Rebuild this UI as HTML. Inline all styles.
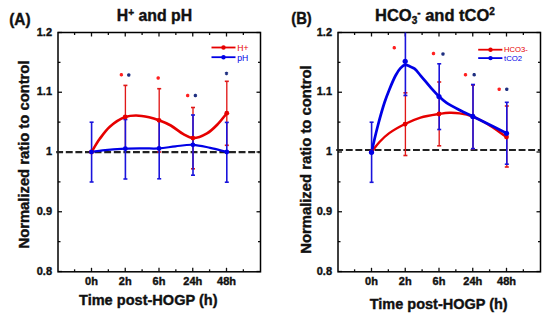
<!DOCTYPE html>
<html><head><meta charset="utf-8"><style>
html,body{margin:0;padding:0;background:#fff;width:550px;height:317px;overflow:hidden;}
svg{display:block;}
</style></head><body>
<svg width="550" height="317" viewBox="0 0 550 317">
<style>text{font-family:"Liberation Sans",sans-serif;} .tl{font-weight:bold;font-size:11px;fill:#111;stroke:#111;stroke-width:0.4} .tt{font-weight:bold;fill:#111;stroke:#111;stroke-width:0.4} .tk line{stroke:#111;stroke-width:1.3}</style>
<g class="tk">
<line x1="91.5" y1="271.8" x2="91.5" y2="267.8"/><line x1="91.5" y1="32.5" x2="91.5" y2="36.5"/>
<line x1="125.25" y1="271.8" x2="125.25" y2="267.8"/><line x1="125.25" y1="32.5" x2="125.25" y2="36.5"/>
<line x1="159.0" y1="271.8" x2="159.0" y2="267.8"/><line x1="159.0" y1="32.5" x2="159.0" y2="36.5"/>
<line x1="192.75" y1="271.8" x2="192.75" y2="267.8"/><line x1="192.75" y1="32.5" x2="192.75" y2="36.5"/>
<line x1="226.5" y1="271.8" x2="226.5" y2="267.8"/><line x1="226.5" y1="32.5" x2="226.5" y2="36.5"/>
<line x1="74.60" y1="271.8" x2="74.60" y2="269.3"/><line x1="74.60" y1="32.5" x2="74.60" y2="35.0"/>
<line x1="108.35" y1="271.8" x2="108.35" y2="269.3"/><line x1="108.35" y1="32.5" x2="108.35" y2="35.0"/>
<line x1="142.10" y1="271.8" x2="142.10" y2="269.3"/><line x1="142.10" y1="32.5" x2="142.10" y2="35.0"/>
<line x1="175.85" y1="271.8" x2="175.85" y2="269.3"/><line x1="175.85" y1="32.5" x2="175.85" y2="35.0"/>
<line x1="209.60" y1="271.8" x2="209.60" y2="269.3"/><line x1="209.60" y1="32.5" x2="209.60" y2="35.0"/>
<line x1="243.35" y1="271.8" x2="243.35" y2="269.3"/><line x1="243.35" y1="32.5" x2="243.35" y2="35.0"/>
<line x1="58" y1="32.5" x2="62" y2="32.5"/><line x1="260.5" y1="32.5" x2="256.5" y2="32.5"/>
<line x1="58" y1="92.25" x2="62" y2="92.25"/><line x1="260.5" y1="92.25" x2="256.5" y2="92.25"/>
<line x1="58" y1="152.0" x2="62" y2="152.0"/><line x1="260.5" y1="152.0" x2="256.5" y2="152.0"/>
<line x1="58" y1="211.75" x2="62" y2="211.75"/><line x1="260.5" y1="211.75" x2="256.5" y2="211.75"/>
<line x1="58" y1="271.5" x2="62" y2="271.5"/><line x1="260.5" y1="271.5" x2="256.5" y2="271.5"/>
<line x1="58" y1="62.375" x2="60.5" y2="62.375"/><line x1="260.5" y1="62.375" x2="258.0" y2="62.375"/>
<line x1="58" y1="122.125" x2="60.5" y2="122.125"/><line x1="260.5" y1="122.125" x2="258.0" y2="122.125"/>
<line x1="58" y1="181.875" x2="60.5" y2="181.875"/><line x1="260.5" y1="181.875" x2="258.0" y2="181.875"/>
<line x1="58" y1="241.625" x2="60.5" y2="241.625"/><line x1="260.5" y1="241.625" x2="258.0" y2="241.625"/>
</g>
<rect x="58" y="32.5" width="202.5" height="239.3" fill="none" stroke="#000" stroke-width="1.5"/>
<text class="tl" x="52" y="35.70" text-anchor="end">1.2</text>
<text class="tl" x="52" y="95.45" text-anchor="end">1.1</text>
<text class="tl" x="52" y="155.20" text-anchor="end">1</text>
<text class="tl" x="52" y="214.95" text-anchor="end">0.9</text>
<text class="tl" x="52" y="274.70" text-anchor="end">0.8</text>
<text class="tl" x="91.50" y="285.2" text-anchor="middle">0h</text>
<text class="tl" x="125.25" y="285.2" text-anchor="middle">2h</text>
<text class="tl" x="159.00" y="285.2" text-anchor="middle">6h</text>
<text class="tl" x="192.75" y="285.2" text-anchor="middle">24h</text>
<text class="tl" x="226.50" y="285.2" text-anchor="middle">48h</text>
<line x1="56.2" y1="152.2" x2="260" y2="152.2" style="stroke:#222;stroke-width:2.2;stroke-dasharray:6.9 2.7"/>
<g stroke="#e01818" stroke-width="1.35" fill="none"><line x1="125.39999999999999" y1="85.40" x2="125.39999999999999" y2="149.00"/><line x1="123.39999999999999" y1="85.40" x2="127.39999999999999" y2="85.40" stroke-width="1.6"/><line x1="123.39999999999999" y1="149.00" x2="127.39999999999999" y2="149.00" stroke-width="1.6"/></g>
<g stroke="#e01818" stroke-width="1.35" fill="none"><line x1="159.2" y1="88.70" x2="159.2" y2="152.00"/><line x1="157.2" y1="88.70" x2="161.2" y2="88.70" stroke-width="1.6"/><line x1="157.2" y1="152.00" x2="161.2" y2="152.00" stroke-width="1.6"/></g>
<g stroke="#e01818" stroke-width="1.35" fill="none"><line x1="193.0" y1="107.50" x2="193.0" y2="168.80"/><line x1="191.0" y1="107.50" x2="195.0" y2="107.50" stroke-width="1.6"/><line x1="191.0" y1="168.80" x2="195.0" y2="168.80" stroke-width="1.6"/></g>
<g stroke="#e01818" stroke-width="1.35" fill="none"><line x1="226.79999999999998" y1="81.30" x2="226.79999999999998" y2="145.30"/><line x1="224.79999999999998" y1="81.30" x2="228.79999999999998" y2="81.30" stroke-width="1.6"/><line x1="224.79999999999998" y1="145.30" x2="228.79999999999998" y2="145.30" stroke-width="1.6"/></g>
<g stroke="#1a14dc" stroke-width="1.6" fill="none"><line x1="91.6" y1="122.20" x2="91.6" y2="182.00"/><line x1="89.6" y1="122.20" x2="93.6" y2="122.20" stroke-width="1.6"/><line x1="89.6" y1="182.00" x2="93.6" y2="182.00" stroke-width="1.6"/></g>
<g stroke="#1a14dc" stroke-width="1.6" fill="none"><line x1="125.39999999999999" y1="119.50" x2="125.39999999999999" y2="179.00"/><line x1="123.39999999999999" y1="119.50" x2="127.39999999999999" y2="119.50" stroke-width="1.6"/><line x1="123.39999999999999" y1="179.00" x2="127.39999999999999" y2="179.00" stroke-width="1.6"/></g>
<g stroke="#1a14dc" stroke-width="1.6" fill="none"><line x1="159.2" y1="120.50" x2="159.2" y2="178.80"/><line x1="157.2" y1="120.50" x2="161.2" y2="120.50" stroke-width="1.6"/><line x1="157.2" y1="178.80" x2="161.2" y2="178.80" stroke-width="1.6"/></g>
<g stroke="#1a14dc" stroke-width="1.6" fill="none"><line x1="193.0" y1="115.00" x2="193.0" y2="175.20"/><line x1="191.0" y1="115.00" x2="195.0" y2="115.00" stroke-width="1.6"/><line x1="191.0" y1="175.20" x2="195.0" y2="175.20" stroke-width="1.6"/></g>
<g stroke="#1a14dc" stroke-width="1.6" fill="none"><line x1="226.79999999999998" y1="122.40" x2="226.79999999999998" y2="182.20"/><line x1="224.79999999999998" y1="122.40" x2="228.79999999999998" y2="122.40" stroke-width="1.6"/><line x1="224.79999999999998" y1="182.20" x2="228.79999999999998" y2="182.20" stroke-width="1.6"/></g>
<path d="M91.50 152.00 C94.20 147.70 96.60 143.26 99.60 139.10 C102.68 134.82 105.71 130.30 109.80 126.70 C114.15 122.86 120.34 118.77 125.20 117.00 C128.96 115.63 132.23 115.50 136.00 115.50 C140.16 115.50 145.07 116.42 149.10 117.30 C152.66 118.08 155.59 119.04 159.00 120.30 C162.80 121.71 166.90 123.32 170.80 125.50 C175.04 127.87 179.38 132.02 183.40 134.20 C186.69 135.98 189.40 137.98 192.90 138.10 C197.11 138.24 202.80 135.79 207.00 133.40 C211.15 131.04 214.67 127.31 218.00 123.90 C221.25 120.57 223.87 116.77 226.80 113.20" fill="none" stroke="#e60000" stroke-width="2.6" stroke-linecap="round"/>
<path d="M91.50 152.00 C95.17 151.47 98.16 150.88 102.50 150.40 C108.72 149.72 118.14 149.03 125.30 148.70 C131.65 148.41 137.50 148.45 143.30 148.40 C148.71 148.35 153.71 148.74 159.00 148.40 C164.44 148.06 169.92 146.90 175.50 146.30 C181.22 145.69 187.13 144.54 192.90 144.80 C198.69 145.06 204.51 146.69 210.20 147.90 C215.81 149.09 221.27 150.63 226.80 152.00" fill="none" stroke="#0000e6" stroke-width="2.2" stroke-linecap="round"/>
<circle cx="91.5" cy="152.00" r="2.4" fill="#e60000"/>
<circle cx="125.2" cy="117.00" r="2.4" fill="#e60000"/>
<circle cx="159" cy="120.30" r="2.4" fill="#e60000"/>
<circle cx="192.9" cy="138.10" r="2.4" fill="#e60000"/>
<circle cx="226.8" cy="113.20" r="2.4" fill="#e60000"/>
<circle cx="91.5" cy="152.00" r="2.4" fill="#0000e6"/>
<circle cx="125.3" cy="148.70" r="2.4" fill="#0000e6"/>
<circle cx="159" cy="148.40" r="2.4" fill="#0000e6"/>
<circle cx="192.9" cy="144.80" r="2.4" fill="#0000e6"/>
<circle cx="226.8" cy="152.00" r="2.4" fill="#0000e6"/>
<path d="M121.40 73.05L121.40 76.55M119.88 73.92L122.92 75.67M122.92 73.92L119.88 75.67" stroke="#ff2020" stroke-width="1.3" fill="none"/><circle cx="121.4" cy="74.8" r="0.9" fill="#ff2020"/>
<path d="M128.80 73.25L128.80 76.75M127.28 74.12L130.32 75.88M130.32 74.12L127.28 75.88" stroke="#1e2f80" stroke-width="1.3" fill="none"/><circle cx="128.8" cy="75.0" r="0.9" fill="#1e2f80"/>
<path d="M158.20 76.25L158.20 79.75M156.68 77.12L159.72 78.88M159.72 77.12L156.68 78.88" stroke="#ff2020" stroke-width="1.3" fill="none"/><circle cx="158.2" cy="78" r="0.9" fill="#ff2020"/>
<path d="M187.70 93.75L187.70 97.25M186.18 94.62L189.22 96.38M189.22 94.62L186.18 96.38" stroke="#ff2020" stroke-width="1.3" fill="none"/><circle cx="187.7" cy="95.5" r="0.9" fill="#ff2020"/>
<path d="M195.40 93.75L195.40 97.25M193.88 94.62L196.92 96.38M196.92 94.62L193.88 96.38" stroke="#1e2f80" stroke-width="1.3" fill="none"/><circle cx="195.4" cy="95.5" r="0.9" fill="#1e2f80"/>
<path d="M226.50 71.65L226.50 75.15M224.98 72.53L228.02 74.28M228.02 72.53L224.98 74.28" stroke="#1e2f80" stroke-width="1.3" fill="none"/><circle cx="226.5" cy="73.4" r="0.9" fill="#1e2f80"/>
<line x1="211.5" y1="47.5" x2="235.5" y2="47.5" style="stroke:#e60000;stroke-width:1.8"/>
<circle cx="223.5" cy="47.50" r="2.2" fill="#e60000"/>
<line x1="211.5" y1="57.2" x2="235.5" y2="57.2" style="stroke:#0000e6;stroke-width:1.8"/>
<circle cx="223.5" cy="57.20" r="2.2" fill="#0000e6"/>
<text x="237.3" y="50.9" style="font-size:8.6px;fill:#e60000">H+</text>
<text x="237.3" y="60.6" style="font-size:8.6px;fill:#0000e6">pH</text>
<text class="tt" x="9.2" y="24.9" style="font-size:16.2px" textLength="21.4" lengthAdjust="spacingAndGlyphs">(A)</text>
<text class="tt" x="116.8" y="20.5" style="font-size:16.5px" textLength="75.4" lengthAdjust="spacingAndGlyphs">H<tspan dy="-5" style="font-size:10.5px">+</tspan><tspan dy="5"> and pH</tspan></text>
<text class="tt" x="79.0" y="304.9" style="font-size:15px" textLength="138.6" lengthAdjust="spacingAndGlyphs">Time post-HOGP (h)</text>
<text class="tt" transform="translate(28.8 248.5) rotate(-90)" x="0" y="0" style="font-size:14.8px" textLength="188" lengthAdjust="spacingAndGlyphs">Normalized ratio to control</text>
<g class="tk">
<line x1="371.5" y1="271.8" x2="371.5" y2="267.8"/><line x1="371.5" y1="32.5" x2="371.5" y2="36.5"/>
<line x1="405.25" y1="271.8" x2="405.25" y2="267.8"/><line x1="405.25" y1="32.5" x2="405.25" y2="36.5"/>
<line x1="439.0" y1="271.8" x2="439.0" y2="267.8"/><line x1="439.0" y1="32.5" x2="439.0" y2="36.5"/>
<line x1="472.75" y1="271.8" x2="472.75" y2="267.8"/><line x1="472.75" y1="32.5" x2="472.75" y2="36.5"/>
<line x1="506.5" y1="271.8" x2="506.5" y2="267.8"/><line x1="506.5" y1="32.5" x2="506.5" y2="36.5"/>
<line x1="354.60" y1="271.8" x2="354.60" y2="269.3"/><line x1="354.60" y1="32.5" x2="354.60" y2="35.0"/>
<line x1="388.35" y1="271.8" x2="388.35" y2="269.3"/><line x1="388.35" y1="32.5" x2="388.35" y2="35.0"/>
<line x1="422.10" y1="271.8" x2="422.10" y2="269.3"/><line x1="422.10" y1="32.5" x2="422.10" y2="35.0"/>
<line x1="455.85" y1="271.8" x2="455.85" y2="269.3"/><line x1="455.85" y1="32.5" x2="455.85" y2="35.0"/>
<line x1="489.60" y1="271.8" x2="489.60" y2="269.3"/><line x1="489.60" y1="32.5" x2="489.60" y2="35.0"/>
<line x1="523.35" y1="271.8" x2="523.35" y2="269.3"/><line x1="523.35" y1="32.5" x2="523.35" y2="35.0"/>
<line x1="338" y1="32.5" x2="342" y2="32.5"/><line x1="540.5" y1="32.5" x2="536.5" y2="32.5"/>
<line x1="338" y1="92.25" x2="342" y2="92.25"/><line x1="540.5" y1="92.25" x2="536.5" y2="92.25"/>
<line x1="338" y1="152.0" x2="342" y2="152.0"/><line x1="540.5" y1="152.0" x2="536.5" y2="152.0"/>
<line x1="338" y1="211.75" x2="342" y2="211.75"/><line x1="540.5" y1="211.75" x2="536.5" y2="211.75"/>
<line x1="338" y1="271.5" x2="342" y2="271.5"/><line x1="540.5" y1="271.5" x2="536.5" y2="271.5"/>
<line x1="338" y1="62.375" x2="340.5" y2="62.375"/><line x1="540.5" y1="62.375" x2="538.0" y2="62.375"/>
<line x1="338" y1="122.125" x2="340.5" y2="122.125"/><line x1="540.5" y1="122.125" x2="538.0" y2="122.125"/>
<line x1="338" y1="181.875" x2="340.5" y2="181.875"/><line x1="540.5" y1="181.875" x2="538.0" y2="181.875"/>
<line x1="338" y1="241.625" x2="340.5" y2="241.625"/><line x1="540.5" y1="241.625" x2="538.0" y2="241.625"/>
</g>
<rect x="338" y="32.5" width="202.5" height="239.3" fill="none" stroke="#000" stroke-width="1.5"/>
<text class="tl" x="332" y="35.70" text-anchor="end">1.2</text>
<text class="tl" x="332" y="95.45" text-anchor="end">1.1</text>
<text class="tl" x="332" y="155.20" text-anchor="end">1</text>
<text class="tl" x="332" y="214.95" text-anchor="end">0.9</text>
<text class="tl" x="332" y="274.70" text-anchor="end">0.8</text>
<text class="tl" x="371.50" y="285.2" text-anchor="middle">0h</text>
<text class="tl" x="405.25" y="285.2" text-anchor="middle">2h</text>
<text class="tl" x="439.00" y="285.2" text-anchor="middle">6h</text>
<text class="tl" x="472.75" y="285.2" text-anchor="middle">24h</text>
<text class="tl" x="506.50" y="285.2" text-anchor="middle">48h</text>
<line x1="336.2" y1="150" x2="540" y2="150" style="stroke:#222;stroke-width:2.2;stroke-dasharray:6.9 2.7"/>
<g stroke="#e01818" stroke-width="1.35" fill="none"><line x1="405.4" y1="92.80" x2="405.4" y2="155.50"/><line x1="403.4" y1="92.80" x2="407.4" y2="92.80" stroke-width="1.6"/><line x1="403.4" y1="155.50" x2="407.4" y2="155.50" stroke-width="1.6"/></g>
<g stroke="#e01818" stroke-width="1.35" fill="none"><line x1="439.2" y1="82.00" x2="439.2" y2="145.80"/><line x1="437.2" y1="82.00" x2="441.2" y2="82.00" stroke-width="1.6"/><line x1="437.2" y1="145.80" x2="441.2" y2="145.80" stroke-width="1.6"/></g>
<g stroke="#e01818" stroke-width="1.35" fill="none"><line x1="473.0" y1="85.00" x2="473.0" y2="148.70"/><line x1="471.0" y1="85.00" x2="475.0" y2="85.00" stroke-width="1.6"/><line x1="471.0" y1="148.70" x2="475.0" y2="148.70" stroke-width="1.6"/></g>
<g stroke="#e01818" stroke-width="1.35" fill="none"><line x1="506.79999999999995" y1="106.00" x2="506.79999999999995" y2="167.00"/><line x1="504.79999999999995" y1="106.00" x2="508.79999999999995" y2="106.00" stroke-width="1.6"/><line x1="504.79999999999995" y1="167.00" x2="508.79999999999995" y2="167.00" stroke-width="1.6"/></g>
<g stroke="#1a14dc" stroke-width="1.6" fill="none"><line x1="371.6" y1="122.20" x2="371.6" y2="182.30"/><line x1="369.6" y1="122.20" x2="373.6" y2="122.20" stroke-width="1.6"/><line x1="369.6" y1="182.30" x2="373.6" y2="182.30" stroke-width="1.6"/></g>
<g stroke="#1a14dc" stroke-width="1.6"><line x1="405.4" y1="32.5" x2="405.4" y2="95.5"/><line x1="403.4" y1="95.5" x2="407.4" y2="95.5" stroke-width="1.6"/></g>
<g stroke="#1a14dc" stroke-width="1.6" fill="none"><line x1="439.2" y1="63.80" x2="439.2" y2="129.50"/><line x1="437.2" y1="63.80" x2="441.2" y2="63.80" stroke-width="1.6"/><line x1="437.2" y1="129.50" x2="441.2" y2="129.50" stroke-width="1.6"/></g>
<g stroke="#1a14dc" stroke-width="1.6" fill="none"><line x1="473.0" y1="84.50" x2="473.0" y2="148.70"/><line x1="471.0" y1="84.50" x2="475.0" y2="84.50" stroke-width="1.6"/><line x1="471.0" y1="148.70" x2="475.0" y2="148.70" stroke-width="1.6"/></g>
<g stroke="#1a14dc" stroke-width="1.6" fill="none"><line x1="506.79999999999995" y1="102.30" x2="506.79999999999995" y2="164.20"/><line x1="504.79999999999995" y1="102.30" x2="508.79999999999995" y2="102.30" stroke-width="1.6"/><line x1="504.79999999999995" y1="164.20" x2="508.79999999999995" y2="164.20" stroke-width="1.6"/></g>
<path d="M371.50 152.00 C374.17 148.67 376.60 145.10 379.50 142.00 C382.40 138.90 385.18 136.14 388.90 133.40 C393.40 130.08 399.59 126.68 405.00 124.00 C410.13 121.46 415.02 119.25 420.50 117.60 C426.31 115.85 433.69 114.82 439.00 114.00 C442.98 113.39 446.02 112.90 449.50 112.80 C452.92 112.71 456.11 112.86 459.70 113.40 C463.82 114.02 468.41 114.98 472.80 116.60 C477.64 118.39 482.31 120.99 487.40 124.00 C493.45 127.57 500.13 132.67 506.50 137.00" fill="none" stroke="#e60000" stroke-width="2.4" stroke-linecap="round"/>
<path d="M371.50 152.00 C373.63 143.17 375.64 134.02 377.90 125.50 C380.02 117.49 382.44 108.83 384.60 102.30 C386.21 97.43 387.55 94.00 389.30 89.70 C391.18 85.08 393.49 79.35 395.60 75.50 C397.16 72.65 398.55 70.26 400.30 68.40 C401.77 66.84 403.37 65.06 405.10 64.80 C406.81 64.55 408.94 66.10 410.60 66.80 C412.03 67.41 413.15 67.68 414.50 68.70 C416.49 70.21 418.42 73.04 420.80 75.80 C424.04 79.55 428.78 85.48 432.10 89.20 C434.58 91.98 436.44 94.05 438.80 96.30 C441.17 98.56 443.28 100.61 446.30 102.70 C450.17 105.38 455.89 108.13 460.50 110.50 C464.77 112.69 467.84 113.97 473.00 116.50 C481.48 120.65 495.33 127.63 506.50 133.20" fill="none" stroke="#0000e6" stroke-width="2.75" stroke-linecap="round"/>
<circle cx="371.5" cy="152.00" r="2.4" fill="#e60000"/>
<circle cx="405" cy="124.20" r="2.4" fill="#e60000"/>
<circle cx="439" cy="114.00" r="2.4" fill="#e60000"/>
<circle cx="472.8" cy="116.60" r="2.4" fill="#e60000"/>
<circle cx="506.5" cy="137.00" r="2.4" fill="#e60000"/>
<circle cx="371.5" cy="152.30" r="2.6" fill="#0000e6"/>
<circle cx="405.2" cy="61.30" r="2.6" fill="#0000e6"/>
<circle cx="439" cy="96.50" r="2.6" fill="#0000e6"/>
<circle cx="472.8" cy="116.40" r="2.6" fill="#0000e6"/>
<circle cx="506.5" cy="133.30" r="2.6" fill="#0000e6"/>
<path d="M394.30 46.05L394.30 49.55M392.78 46.92L395.82 48.67M395.82 46.92L392.78 48.67" stroke="#ff2020" stroke-width="1.3" fill="none"/><circle cx="394.3" cy="47.8" r="0.9" fill="#ff2020"/>
<path d="M433.50 51.75L433.50 55.25M431.98 52.62L435.02 54.38M435.02 52.62L431.98 54.38" stroke="#ff2020" stroke-width="1.3" fill="none"/><circle cx="433.5" cy="53.5" r="0.9" fill="#ff2020"/>
<path d="M443.00 52.25L443.00 55.75M441.48 53.12L444.52 54.88M444.52 53.12L441.48 54.88" stroke="#1e2f80" stroke-width="1.3" fill="none"/><circle cx="443" cy="54" r="0.9" fill="#1e2f80"/>
<path d="M465.50 73.05L465.50 76.55M463.98 73.92L467.02 75.67M467.02 73.92L463.98 75.67" stroke="#ff2020" stroke-width="1.3" fill="none"/><circle cx="465.5" cy="74.8" r="0.9" fill="#ff2020"/>
<path d="M474.20 73.05L474.20 76.55M472.68 73.92L475.72 75.67M475.72 73.92L472.68 75.67" stroke="#1e2f80" stroke-width="1.3" fill="none"/><circle cx="474.2" cy="74.8" r="0.9" fill="#1e2f80"/>
<path d="M499.20 87.55L499.20 91.05M497.68 88.42L500.72 90.17M500.72 88.42L497.68 90.17" stroke="#ff2020" stroke-width="1.3" fill="none"/><circle cx="499.2" cy="89.3" r="0.9" fill="#ff2020"/>
<path d="M506.80 87.55L506.80 91.05M505.28 88.42L508.32 90.17M508.32 88.42L505.28 90.17" stroke="#1e2f80" stroke-width="1.3" fill="none"/><circle cx="506.8" cy="89.3" r="0.9" fill="#1e2f80"/>
<line x1="478.2" y1="49.7" x2="502.4" y2="49.7" style="stroke:#e60000;stroke-width:1.8"/>
<circle cx="490.5" cy="49.70" r="2.2" fill="#e60000"/>
<line x1="478.2" y1="58.1" x2="502.4" y2="58.1" style="stroke:#0000e6;stroke-width:1.8"/>
<circle cx="490.5" cy="58.10" r="2.2" fill="#0000e6"/>
<text x="504" y="52.4" style="font-size:7.6px;fill:#e60000" textLength="23.8" lengthAdjust="spacingAndGlyphs">HCO3-</text>
<text x="504" y="60.9" style="font-size:7.6px;fill:#0000e6" textLength="18.1" lengthAdjust="spacingAndGlyphs">tCO2</text>
<text class="tt" x="291.2" y="24.0" style="font-size:16.2px" textLength="20.6" lengthAdjust="spacingAndGlyphs">(B)</text>
<text class="tt" x="375" y="20.6" style="font-size:16.5px">HCO<tspan dy="3" style="font-size:10px">3</tspan><tspan dy="-8" style="font-size:10px">-</tspan><tspan dy="5"> and tCO</tspan><tspan dy="-5.5" style="font-size:10px">2</tspan></text>
<text class="tt" x="369.7" y="309" style="font-size:15px" textLength="138" lengthAdjust="spacingAndGlyphs">Time post-HOGP (h)</text>
<text class="tt" transform="translate(310.6 253.8) rotate(-90)" x="0" y="0" style="font-size:14.8px" textLength="188.5" lengthAdjust="spacingAndGlyphs">Normalized ratio to control</text>
</svg>
</body></html>
